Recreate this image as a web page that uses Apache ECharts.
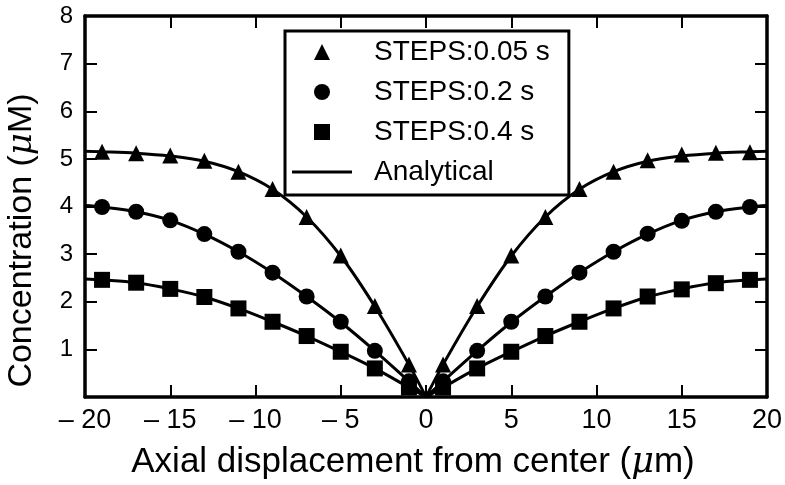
<!DOCTYPE html>
<html>
<head>
<meta charset="utf-8">
<script src="https://cdn.jsdelivr.net/npm/echarts@6/dist/echarts.min.js"></script>
<style>
  html, body { margin: 0; padding: 0; background: #fff; }
  #chart { width: 785px; height: 485px; }
</style>
</head>
<body>
<div id="chart"></div>
<script>
// positions of the simulated points (um)
const xPts = [-19, -17, -15, -13, -11, -9, -7, -5, -3, -1, 1, 3, 5, 7, 9, 11, 13, 15, 17, 19];
// simulated concentrations (uM)
const steps005 = [5.15, 5.12, 5.07, 4.96, 4.73, 4.37, 3.78, 2.97, 1.91, 0.68,
                  0.68, 1.91, 2.97, 3.78, 4.37, 4.73, 4.97, 5.09, 5.13, 5.14];
const steps02  = [3.99, 3.89, 3.71, 3.42, 3.05, 2.61, 2.11, 1.58, 0.97, 0.33,
                  0.33, 0.97, 1.58, 2.11, 2.61, 3.05, 3.43, 3.70, 3.89, 3.99];
const steps04  = [2.46, 2.40, 2.27, 2.10, 1.86, 1.58, 1.28, 0.95, 0.60, 0.20,
                  0.20, 0.60, 0.95, 1.28, 1.58, 1.86, 2.11, 2.26, 2.39, 2.46];

// analytical curves
const anaX  = [-20, -19, -17, -15, -13, -11, -9, -7, -5, -3, -1, 0,
               1, 3, 5, 7, 9, 11, 13, 15, 17, 19, 20];
const ana005 = [5.16, 5.15, 5.12, 5.06, 4.95, 4.73, 4.36, 3.78, 2.96, 1.90, 0.68, 0,
                0.68, 1.90, 2.96, 3.78, 4.36, 4.73, 4.95, 5.06, 5.12, 5.15, 5.16];
const ana02  = [4.02, 3.99, 3.89, 3.71, 3.42, 3.05, 2.61, 2.11, 1.57, 0.97, 0.33, 0,
                0.33, 0.97, 1.57, 2.11, 2.61, 3.05, 3.42, 3.71, 3.89, 3.99, 4.02];
const ana04  = [2.48, 2.46, 2.40, 2.27, 2.10, 1.86, 1.58, 1.28, 0.95, 0.60, 0.20, 0,
                0.20, 0.60, 0.95, 1.28, 1.58, 1.86, 2.10, 2.27, 2.40, 2.46, 2.48];

const legendNames = ['STEPS:0.05 s', 'STEPS:0.2 s', 'STEPS:0.4 s', 'Analytical'];
const xTicks = { min: -20, max: 20, step: 5 };
const yTicks = { min: 0, max: 8, step: 1 };

const font = 'Liberation Sans';
const ink = '#000';

// legend glyphs as paths so they keep their aspect inside a wide legend slot
const icons = {
  triangle: 'path://M8,0L16,16L0,16Z',
  circle: 'path://M8,0A8,8,0,1,1,7.99,0Z',
  rect: 'path://M0,0L16,0L16,16L0,16Z',
  line: 'path://M0,0L60,0L60,3L0,3Z'
};

const pairs = (xs, ys) => xs.map((x, i) => [x, ys[i]]);
// the analytical curve has a cusp at 0, so each half is its own smooth line
const halves = (ys) => {
  const mid = anaX.indexOf(0);
  return [pairs(anaX.slice(0, mid + 1), ys.slice(0, mid + 1)),
          pairs(anaX.slice(mid), ys.slice(mid))];
};

const markerSeries = (name, symbol, ys) => ({
  name, type: 'scatter', symbol, symbolSize: 16, z: 5,
  itemStyle: { color: ink, opacity: 1 },
  data: pairs(xPts, ys)
});

const lineSeries = [];
[ana005, ana02, ana04].forEach(ys => {
  halves(ys).forEach(d => {
    lineSeries.push({
      name: 'Analytical', type: 'line', data: d, smooth: 0.35,
      showSymbol: false, symbol: 'none', z: 3,
      lineStyle: { color: ink, width: 3 }, itemStyle: { color: ink }
    });
  });
});

const tickLine = { show: true, inside: true, length: 12, lineStyle: { color: ink, width: 2 } };
const boxLine = { show: true, onZero: false, lineStyle: { color: ink, width: 3.5 } };
const muStyle = { fontSize: 35, fontStyle: 'italic', fontFamily: 'DejaVu Serif', color: ink };

const chart = echarts.init(document.getElementById('chart'));
chart.setOption({
  animation: false,
  backgroundColor: '#fff',
  textStyle: { fontFamily: font, color: ink },
  grid: { left: 85, right: 18, top: 16, bottom: 88, outerBoundsMode: 'none' },
  legend: {
    orient: 'vertical', left: 285, top: 31,
    padding: [7, 19, 9, 7],
    borderColor: ink, borderWidth: 3, backgroundColor: '#fff',
    itemWidth: 60, itemHeight: 16, itemGap: 12,
    symbolKeepAspect: true,
    textStyle: { fontSize: 28, color: ink, fontFamily: font, padding: [0, 0, 0, 17] },
    data: [
      { name: legendNames[0], icon: icons.triangle, itemStyle: { color: ink, opacity: 1 } },
      { name: legendNames[1], icon: icons.circle, itemStyle: { color: ink, opacity: 1 } },
      { name: legendNames[2], icon: icons.rect, itemStyle: { color: ink, opacity: 1 } },
      { name: legendNames[3], icon: icons.line, itemStyle: { color: ink, opacity: 1 } }
    ]
  },
  xAxis: [{
    type: 'value', min: xTicks.min, max: xTicks.max, interval: xTicks.step,
    axisLine: boxLine, axisTick: tickLine, splitLine: { show: false },
    axisLabel: {
      fontSize: 27, color: ink, margin: 10,
      formatter: v => v < 0 ? '\u2013 ' + Math.abs(v) : String(v)
    },
    name: 'Axial displacement from center ({m|\u03bc}m)',
    nameLocation: 'middle', nameGap: 48,
    nameTextStyle: {
      fontSize: 35, color: ink, padding: [0, 26, 0, 0],
      rich: { m: muStyle }
    }
  }, {
    type: 'value', position: 'top', min: xTicks.min, max: xTicks.max, interval: xTicks.step,
    axisLine: boxLine, axisTick: tickLine, axisLabel: { show: false }, splitLine: { show: false }
  }],
  yAxis: [{
    type: 'value', min: yTicks.min, max: yTicks.max, interval: yTicks.step,
    axisLine: boxLine, axisTick: tickLine, splitLine: { show: false },
    axisLabel: {
      fontSize: 24, color: ink, margin: 12,
      formatter: v => v === 0 ? '' : String(v)
    },
    name: 'Concentration ({m|\u03bc}M)',
    nameLocation: 'middle', nameGap: 46,
    nameTextStyle: {
      fontSize: 34, color: ink, padding: [0, 68, 0, 0],
      rich: { m: Object.assign({}, muStyle, { fontSize: 34 }) }
    }
  }, {
    type: 'value', position: 'right', min: yTicks.min, max: yTicks.max, interval: yTicks.step,
    axisLine: boxLine, axisTick: tickLine, axisLabel: { show: false }, splitLine: { show: false }
  }],
  series: [
    markerSeries(legendNames[0], 'triangle', steps005),
    markerSeries(legendNames[1], 'circle', steps02),
    markerSeries(legendNames[2], 'rect', steps04)
  ].concat(lineSeries)
});
</script>
</body>
</html>
